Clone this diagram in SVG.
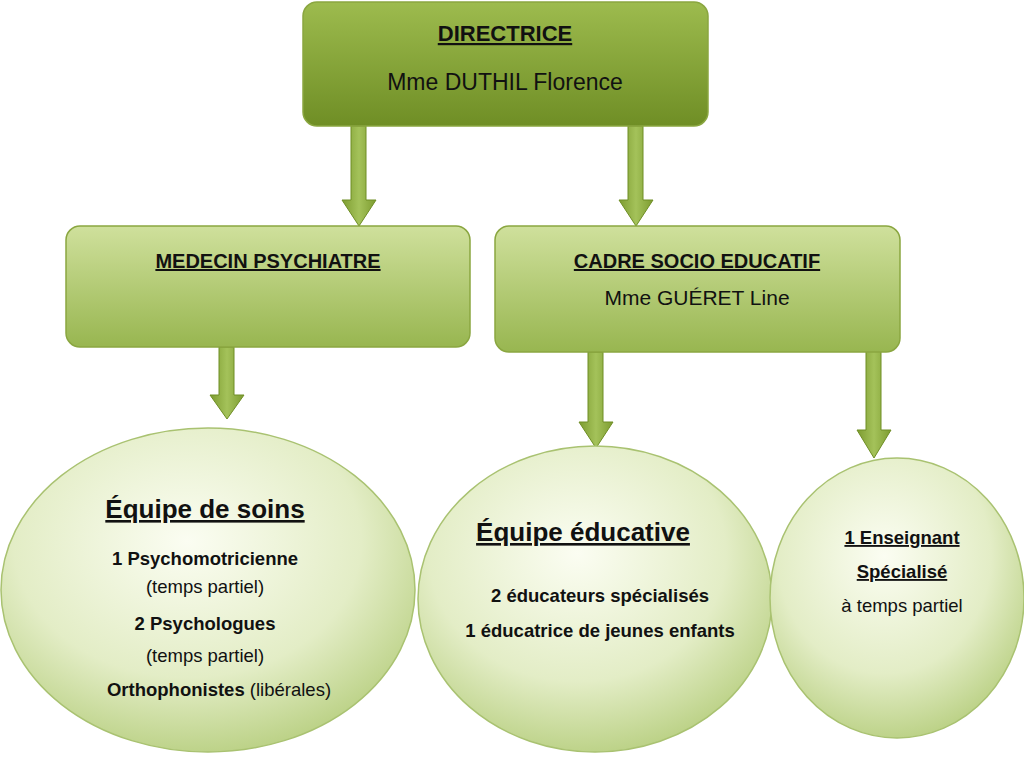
<svg xmlns="http://www.w3.org/2000/svg" width="1024" height="774" viewBox="0 0 1024 774">
<defs>
<linearGradient id="gTop" x1="0" y1="0" x2="0" y2="1"><stop offset="0" stop-color="#9dbb4e"/><stop offset="1" stop-color="#6f8e25"/></linearGradient>
<linearGradient id="gMid" x1="0" y1="0" x2="0" y2="1"><stop offset="0" stop-color="#cfe09c"/><stop offset="1" stop-color="#98b650"/></linearGradient>
<linearGradient id="gArr" x1="0" y1="0" x2="1" y2="0"><stop offset="0" stop-color="#7d9c30"/><stop offset="0.5" stop-color="#a4c25a"/><stop offset="1" stop-color="#7d9c30"/></linearGradient>
<radialGradient id="gEl" cx="0.45" cy="0.35" r="0.7"><stop offset="0" stop-color="#fbfdf2"/><stop offset="0.6" stop-color="#e3edc6"/><stop offset="1" stop-color="#b5cd7c"/></radialGradient>
</defs>
<style>
text{font-family:"Liberation Sans",Arial,sans-serif;fill:#111;text-anchor:middle}
.b{font-weight:bold}
.u{text-decoration:underline}
.box{stroke:#8aa640;stroke-width:1.5}
.el{fill:url(#gEl);stroke:#a9c271;stroke-width:1.5}
.ar{fill:url(#gArr);stroke:#6f8e25;stroke-width:1}
</style>
<g id="connectors">
<path class="ar" d="M351 126 h15 v74 h10 l-17 26 l-17 -26 h9 z"/>
<path class="ar" d="M628 126 h15 v74 h10 l-17 26 l-17 -26 h9 z"/>
<path class="ar" d="M219 347 h15 v48 h10 l-17 24 l-17 -24 h9 z"/>
<path class="ar" d="M588 352 h15 v70 h10 l-17 26 l-17 -26 h9 z"/>
<path class="ar" d="M866 350 h15 v80 h10 l-17 28 l-17 -28 h9 z"/>
</g>
<g id="directrice">
<rect class="box" x="303" y="2" width="405" height="124" rx="14" fill="url(#gTop)"/>
<text class="b u" x="505" y="41" font-size="22">DIRECTRICE</text>
<text x="505" y="90" font-size="23">Mme DUTHIL Florence</text>
</g>
<g id="medecin">
<rect class="box" x="66" y="226" width="404" height="121" rx="14" fill="url(#gMid)"/>
<text class="b u" x="268" y="268" font-size="20">MEDECIN PSYCHIATRE</text>
</g>
<g id="cadre">
<rect class="box" x="495" y="226" width="405" height="126" rx="14" fill="url(#gMid)"/>
<text class="b u" x="697" y="268" font-size="20">CADRE SOCIO EDUCATIF</text>
<text x="697" y="305" font-size="21">Mme GUÉRET Line</text>
</g>
<g id="soins">
<ellipse class="el" cx="208" cy="590" rx="207" ry="162"/>
<text class="b u" x="205" y="518" font-size="26">Équipe de soins</text>
<text class="b" x="205" y="565" font-size="18.5">1 Psychomotricienne</text>
<text x="205" y="593" font-size="18.5">(temps partiel)</text>
<text class="b" x="205" y="630" font-size="18.5">2 Psychologues</text>
<text x="205" y="662" font-size="18.5">(temps partiel)</text>
<text x="219" y="696" font-size="18.5"><tspan font-weight="bold">Orthophonistes</tspan> (libérales)</text>
</g>
<g id="educative">
<ellipse class="el" cx="595" cy="599" rx="177" ry="153"/>
<text class="b u" x="583" y="541" font-size="26">Équipe éducative</text>
<text class="b" x="600" y="602" font-size="18.5">2 éducateurs spécialisés</text>
<text class="b" x="600" y="637" font-size="18.5">1 éducatrice de jeunes enfants</text>
</g>
<g id="enseignant">
<ellipse class="el" cx="897" cy="598" rx="127" ry="140"/>
<text class="b u" x="902" y="544" font-size="18.5">1 Enseignant</text>
<text class="b u" x="902" y="578" font-size="18.5">Spécialisé</text>
<text x="902" y="612" font-size="18.5">à temps partiel</text>
</g>
</svg>
